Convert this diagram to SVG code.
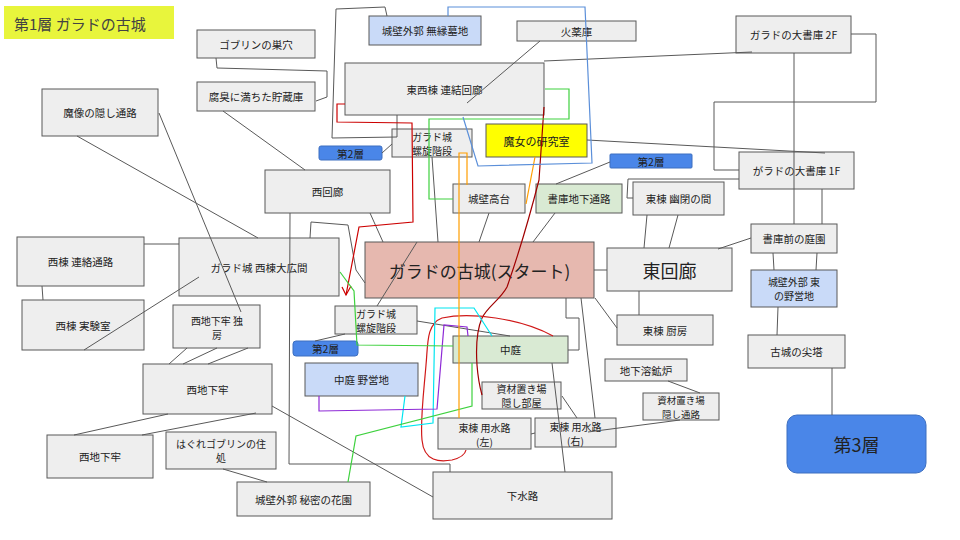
<svg xmlns="http://www.w3.org/2000/svg" width="960" height="540" viewBox="0 0 960 540">
<style>
.n rect{fill:#eeeeee;stroke:#595959;stroke-width:1}
.b rect{fill:#c9daf8}
.g rect{fill:#d9ead3}
.t{font-family:"Noto Sans CJK JP","Noto Sans",sans-serif;font-size:10.5px;fill:#222;text-anchor:middle;dominant-baseline:central}
.m{font-size:10px}
.L{font-size:18px}
.lay rect{fill:#4a86e8;stroke:#3d6fc0;stroke-width:1}
.c{fill:none;stroke:#595959;stroke-width:1}
.k{fill:none;stroke-width:1.2}
</style>
<rect width="960" height="540" fill="#ffffff"/>
<g id="title">
<rect x="4" y="6" width="170" height="33" fill="#e8f53c"/>
<text x="14" y="23" class="t" style="text-anchor:start;font-size:15px;fill:#434343">第1層 ガラドの古城</text>
</g>
<g id="n-goblin" class="n"><rect x="197" y="30" width="118" height="28"/><text class="t" x="256" y="44">ゴブリンの巣穴</text></g>
<g id="n-fushu" class="n"><rect x="197" y="82" width="118" height="29"/><text class="t" x="256" y="96.5">腐臭に満ちた貯蔵庫</text></g>
<g id="n-mazou" class="n"><rect x="42" y="89" width="116" height="47"/><text class="t" x="100" y="112.5">魔像の隠し通路</text></g>
<g id="n-muen" class="n b"><rect x="369" y="16" width="112" height="29"/><text class="t" x="425" y="30.5">城壁外郭 無縁墓地</text></g>
<g id="n-kayaku" class="n"><rect x="517" y="21" width="119" height="20"/><text class="t" x="576.5" y="31">火薬庫</text></g>
<g id="n-renketsu" class="n"><rect x="345" y="63" width="199" height="52"/><text class="t" x="444.5" y="89">東西棟 連結回廊</text></g>
<g id="n-rasen1" class="n"><rect x="392" y="129" width="80" height="28"/><text class="t m" x="432" y="136">ガラド城</text><text class="t m" x="432" y="150">螺旋階段</text></g>
<g id="n-majo" class="n"><rect x="486" y="124" width="101" height="33" style="fill:#ffff00"/><text class="t" x="536.5" y="140.5" style="font-size:11px">魔女の研究室</text></g>
<g id="n-lay2a" class="lay"><rect x="319" y="146" width="63" height="14" rx="2"/><text class="t" x="350.5" y="153">第2層</text></g>
<g id="n-lay2b" class="lay"><rect x="610" y="154" width="82" height="14" rx="1"/><text class="t" x="651" y="161">第2層</text></g>
<g id="n-sho2" class="n"><rect x="736" y="16" width="115" height="37"/><text class="t" x="793.5" y="34.5">ガラドの大書庫 2F</text></g>
<g id="n-sho1" class="n"><rect x="739" y="152" width="115" height="37"/><text class="t" x="796.5" y="170.5">がラドの大書庫 1F</text></g>
<g id="n-shochika" class="n g"><rect x="536" y="184" width="86" height="29"/><text class="t" x="579" y="198.5">書庫地下通路</text></g>
<g id="n-koudai" class="n"><rect x="453" y="184" width="72" height="29"/><text class="t" x="489" y="198.5">城壁高台</text></g>
<g id="n-yuuhei" class="n"><rect x="633" y="182" width="91" height="33"/><text class="t" x="678.5" y="198.5">東棟 幽閉の間</text></g>
<g id="n-nishikairou" class="n"><rect x="265" y="170" width="125" height="43"/><text class="t" x="327.5" y="191.5">西回廊</text></g>
<g id="n-start" class="n"><rect x="365" y="242" width="229" height="56" style="fill:#e6b8af"/><text class="t" x="479.5" y="270" style="font-size:17px">ガラドの古城(スタート)</text></g>
<g id="n-higashikairou" class="n"><rect x="607" y="248" width="125" height="43"/><text class="t L" x="669.5" y="269.5">東回廊</text></g>
<g id="n-teien" class="n"><rect x="751" y="224" width="86" height="29"/><text class="t" x="794" y="238.5">書庫前の庭園</text></g>
<g id="n-yaeichi-e" class="n b"><rect x="751" y="270" width="86" height="37"/><text class="t m" x="794" y="281.5">城壁外部 東</text><text class="t m" x="794" y="295.5">の野営地</text></g>
<g id="n-sentou" class="n"><rect x="748" y="335" width="97" height="33"/><text class="t" x="796.5" y="351.5">古城の尖塔</text></g>
<g id="n-lay3" class="lay"><rect x="787" y="415" width="139" height="58" rx="10"/><text class="t L" x="856.5" y="444">第3層</text></g>
<g id="n-renraku" class="n"><rect x="17" y="237" width="127" height="49"/><text class="t" x="80.5" y="261.5">西棟 連絡通路</text></g>
<g id="n-jikken" class="n"><rect x="22" y="300" width="122" height="50"/><text class="t" x="83" y="325">西棟 実験室</text></g>
<g id="n-daihiroma" class="n"><rect x="179" y="238" width="160" height="58"/><text class="t" x="259" y="267">ガラド城 西棟大広間</text></g>
<g id="n-dokubou" class="n"><rect x="173" y="305" width="87" height="43"/><text class="t m" x="217" y="320">西地下牢 独</text><text class="t m" x="217" y="334">房</text></g>
<g id="n-chikarou1" class="n"><rect x="143" y="364" width="129" height="50"/><text class="t" x="207.5" y="389">西地下牢</text></g>
<g id="n-chikarou2" class="n"><rect x="47" y="435" width="106" height="43"/><text class="t" x="100" y="456.5">西地下牢</text></g>
<g id="n-hagure" class="n"><rect x="166" y="432" width="110" height="37"/><text class="t m" x="221" y="443.5">はぐれゴブリンの住</text><text class="t m" x="221" y="457.5">処</text></g>
<g id="n-hanazono" class="n"><rect x="237" y="482" width="133" height="34"/><text class="t" x="303.5" y="499">城壁外郭 秘密の花園</text></g>
<g id="n-rasen2" class="n"><rect x="335" y="306" width="82" height="28"/><text class="t m" x="376" y="313">ガラド城</text><text class="t m" x="376" y="327">螺旋階段</text></g>
<g id="n-lay2c" class="lay"><rect x="293" y="341" width="65" height="15" rx="3"/><text class="t" x="325.5" y="348.5">第2層</text></g>
<g id="n-yaeichi-n" class="n b"><rect x="305" y="363" width="113" height="33"/><text class="t" x="361.5" y="379.5">中庭 野営地</text></g>
<g id="n-nakaniwa" class="n g"><rect x="453" y="336" width="115" height="27"/><text class="t" x="510.5" y="349.5">中庭</text></g>
<g id="n-kakushibeya" class="n"><rect x="482" y="382" width="79" height="27"/><text class="t m" x="521.5" y="388.5">資材置き場</text><text class="t m" x="521.5" y="402.5">隠し部屋</text></g>
<g id="n-yousui-l" class="n"><rect x="438" y="418" width="93" height="31"/><text class="t m" x="484.5" y="427">東棟 用水路</text><text class="t m" x="484.5" y="441">(左)</text></g>
<g id="n-yousui-r" class="n"><rect x="535" y="418" width="81" height="29"/><text class="t m" x="575.5" y="426">東棟 用水路</text><text class="t m" x="575.5" y="440">(右)</text></g>
<g id="n-gesui" class="n"><rect x="433" y="472" width="179" height="47"/><text class="t" x="522.5" y="495.5">下水路</text></g>
<g id="n-chuubou" class="n"><rect x="617" y="315" width="96" height="30"/><text class="t" x="665" y="330">東棟 厨房</text></g>
<g id="n-youkouro" class="n"><rect x="605" y="359" width="82" height="22"/><text class="t" x="646" y="370">地下溶鉱炉</text></g>
<g id="n-kakushitsuro" class="n"><rect x="643" y="393" width="76" height="27"/><text class="t" x="681" y="399.5" style="font-size:9.5px">資材置き場</text><text class="t" x="681" y="413.5" style="font-size:9.5px">隠し通路</text></g>
<g id="connectors">
<polyline class="c" points="216,58 217,68 327,71 327,97 316,101"/>
<line class="c" x1="223" y1="111" x2="305" y2="170"/>
<line class="c" x1="77" y1="136" x2="258" y2="238"/>
<line class="c" x1="159" y1="113" x2="241" y2="312"/>
<line class="c" x1="144" y1="244" x2="179" y2="244"/>
<line class="c" x1="42" y1="286" x2="43" y2="300"/>
<line class="c" x1="84" y1="350" x2="199" y2="277"/>
<line class="c" x1="187" y1="348" x2="169" y2="364"/>
<line class="c" x1="217" y1="348" x2="183" y2="364"/>
<line class="c" x1="248" y1="348" x2="208" y2="364"/>
<line class="c" x1="168" y1="414" x2="74" y2="435"/>
<line class="c" x1="256" y1="413" x2="142" y2="435"/>
<line class="c" x1="272" y1="406" x2="433" y2="497"/>
<line class="c" x1="223" y1="469" x2="267" y2="482"/>
<polyline class="c" points="290,213 289,464 450,464 450,472"/>
<polyline class="c" points="310,238 311,222 348,225 356,270 365,283"/>
<line class="c" x1="370" y1="213" x2="383" y2="242"/>
<line class="c" x1="417" y1="242" x2="377" y2="306"/>
<polyline class="c" points="397,115 397,137 332,138 336,9 385,7 387,16"/>
<line class="c" x1="540" y1="41" x2="467" y2="103"/>
<line class="c" x1="544" y1="61" x2="752" y2="52"/>
<line class="c" x1="794" y1="53" x2="794" y2="224"/>
<line class="c" x1="822" y1="189" x2="822" y2="224"/>
<polyline class="c" points="851,34 876,34 876,102 714,102 714,170 739,170"/>
<line class="c" x1="587" y1="140" x2="825" y2="153"/>
<line class="c" x1="610" y1="162" x2="556" y2="184"/>
<polyline class="c" points="633,198 627,198 628,179 739,179"/>
<line class="c" x1="647" y1="215" x2="644" y2="248"/>
<line class="c" x1="678" y1="215" x2="669" y2="248"/>
<line class="c" x1="751" y1="238" x2="718" y2="249"/>
<line class="c" x1="773" y1="253" x2="774" y2="270"/>
<line class="c" x1="817" y1="253" x2="816" y2="270"/>
<line class="c" x1="778" y1="307" x2="777" y2="335"/>
<line class="c" x1="832" y1="368" x2="832" y2="415"/>
<line class="c" x1="594" y1="270" x2="607" y2="270"/>
<line class="c" x1="639" y1="291" x2="639" y2="315"/>
<line class="c" x1="595" y1="298" x2="617" y2="328"/>
<polyline class="c" points="566,298 566,318 579,318 579,350 568,350"/>
<line class="c" x1="581" y1="298" x2="595" y2="418"/>
<line class="c" x1="552" y1="363" x2="565" y2="472"/>
<line class="c" x1="562" y1="396" x2="577" y2="418"/>
<line class="c" x1="531" y1="434" x2="535" y2="433"/>
<line class="c" x1="668" y1="381" x2="700" y2="393"/>
<line class="c" x1="680" y1="420" x2="588" y2="432"/>
<line class="c" x1="417" y1="321" x2="510" y2="336"/>
<line class="c" x1="315" y1="341" x2="345" y2="334"/>
<line class="c" x1="382" y1="153" x2="392" y2="144"/>
<line class="c" x1="432" y1="157" x2="438" y2="242"/>
<line class="c" x1="489" y1="213" x2="479" y2="242"/>
<line class="c" x1="555" y1="213" x2="533" y2="242"/>
<polyline class="k" stroke="#cc0000" points="345,104 337,104 337,122 412,123 413,222 359,227 346,295"/>
<polyline class="k" stroke="#cc0000" points="342,287 346,295 351,286"/>
<path class="k" stroke="#a00000" d="M544,107 L539,180 C530,215 520,250 507,287 C500,300 488,306 482,318 C476,332 476,350 477,365 C478,378 480,388 482,395"/>
<path class="k" stroke="#d01818" d="M553,336 C520,318 470,312 442,318 C426,324 428,345 426,365 C424,390 420,420 422,440 C424,462 440,462 452,460 C460,458 465,455 466,450"/>
<polyline class="k" stroke="#00e5f0" points="405,396 401,427 433,423 435,308 474,308 492,336"/>
<polyline class="k" stroke="#8e2ad6" points="319,396 319,411 437,409 444,325 467,327 468,336"/>
<polyline class="k" stroke="#3ed13e" points="545,89 569,89 569,119 429,119 429,199 453,199"/>
<polyline class="k" stroke="#3ed13e" points="340,272 354,291 357,345 453,346"/>
<polyline class="k" stroke="#3ed13e" points="472,363 472,406 356,436 348,482"/>
<polyline class="k" stroke="#ff9d00" points="467,185 467,153 459,153 459,418"/>
<polyline class="k" stroke="#ff9d00" points="535,157 526,204"/>
<polyline class="k" stroke="#5b8fd9" points="448,16 448,7 585,7 592,163 478,166 463,117"/>
</g>
</svg>
